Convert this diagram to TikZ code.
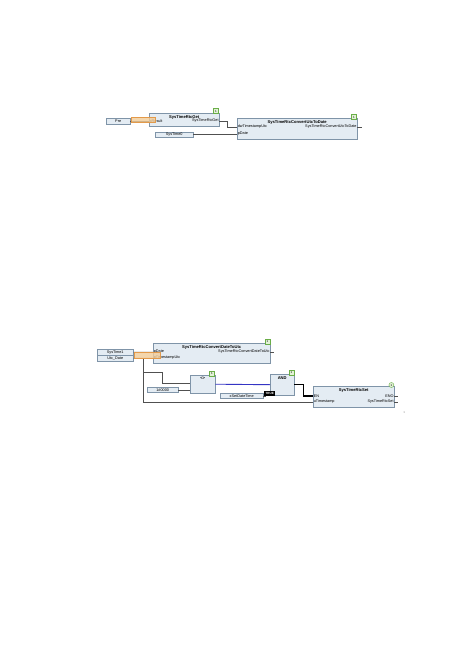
\documentclass[tikz,border=0pt]{standalone}
\usepackage{fontspec}
\setmainfont{Liberation Sans}
\usetikzlibrary{positioning, calc}
\definecolor{bloque}{HTML}{E4ECF3}
\definecolor{borde}{HTML}{7F94A8}
\definecolor{verde}{HTML}{E2F2D6}
\definecolor{verdeborde}{HTML}{6AAE48}
\definecolor{naranja}{HTML}{F2CC98}
\definecolor{naranjaborde}{HTML}{E39A4A}
\definecolor{azul}{HTML}{3434C4}
\definecolor{cable}{HTML}{505050}

\begin{document}
\begin{tikzpicture}[x=1pt, y=-1pt,
    fb/.style={rectangle, draw=borde, fill=bloque, anchor=north west, inner sep=0pt, line width=0.4pt},
    var/.style={rectangle, draw=borde, fill=bloque, anchor=north west, inner sep=0pt, line width=0.4pt, font=\fontsize{3.8}{4}\selectfont},
    titulo/.style={inner sep=0pt, font=\fontsize{4.1}{4.4}\selectfont\bfseries},
    pin_in/.style={anchor=west, inner sep=0.6pt, font=\fontsize{3.8}{4}\selectfont},
    pin_out/.style={anchor=east, inner sep=0.6pt, font=\fontsize{3.8}{4}\selectfont},
    orden/.style={rectangle, draw=verdeborde, fill=verde, minimum size=5pt, inner sep=0pt, font=\fontsize{3}{3}\selectfont},
    orden_set/.style={circle, draw=verdeborde, fill=verde, minimum size=5pt, inner sep=0pt, font=\fontsize{3}{3}\selectfont},
    foco/.style={rectangle, draw=naranjaborde, fill=naranja, fill opacity=0.8, anchor=north west, inner sep=0pt},
    valor/.style={rectangle, fill=black, text=white, anchor=north west, inner sep=0pt, font=\fontsize{3}{3}\selectfont\bfseries},
    line/.style={draw=cable, line width=0.4pt},
    lineaazul/.style={draw=azul, line width=0.9pt},
    lineagruesa/.style={draw=black, line width=1.1pt},
]
    \useasboundingbox[fill=white] (0,0) rectangle (474,669);

    % Red superior
    \node[var, minimum width=24pt, minimum height=6pt] (pre_var) at (106,118) {Pre};
    \node[fb, minimum width=70pt, minimum height=13pt] (rtc_get) at (149,113) {};
    \node[titulo, below=2pt of rtc_get.north] (rtc_get_t) {SysTimeRtcGet};
    \node[pin_in] (rtc_get_in) at ($(rtc_get.north west)+(0,8)$) {xResult};
    \node[pin_out] (rtc_get_out) at ($(rtc_get.north east)+(0,8)$) {SysTimeRtcGet};
    \node[orden] (rtc_get_n) at ($(rtc_get.north east)+(-3.5,-2)$) {1};

    \node[var, minimum width=38pt, minimum height=5pt] (sys_time0) at (155,131.5) {SysTime0};
    \node[fb, minimum width=120pt, minimum height=21pt] (utc_to_date) at (237,118) {};
    \node[titulo, below=2.5pt of utc_to_date.north] (utc_to_date_t) {SysTimeRtcConvertUtcToDate};
    \node[pin_in] (utc_to_date_in1) at ($(utc_to_date.north west)+(0,9)$) {dwTimestampUtc};
    \node[pin_in] (utc_to_date_in2) at ($(utc_to_date.north west)+(0,16)$) {pDate};
    \node[pin_out] (utc_to_date_out) at ($(utc_to_date.north east)+(0,9)$) {SysTimeRtcConvertUtcToDate};
    \node[orden] (utc_to_date_n) at ($(utc_to_date.north east)+(-3.5,-1)$) {1};

    % Conexiones superiores
    \draw[line] (pre_var.east) -- (pre_var.east -| rtc_get.west);
    \draw[line] (rtc_get_out -| rtc_get.east) -- ++(8,0) |- (utc_to_date_in1 -| utc_to_date.west);
    \draw[line] (sys_time0.east) -- (sys_time0.east -| utc_to_date.west);
    \draw[line] (utc_to_date_out -| utc_to_date.east) -- ++(5,0);
    \node[foco, minimum width=24pt, minimum height=5pt] (foco_get) at (131,117) {};

    % Red inferior
    \node[var, minimum width=36pt, minimum height=6pt] (sys_time1) at (97,349) {SysTime1};
    \node[var, minimum width=36pt, minimum height=6pt] (utc_date) at (97,355) {Utc\_Date};
    \node[fb, minimum width=117pt, minimum height=20pt] (date_to_utc) at (153,343) {};
    \node[titulo, below=2.5pt of date_to_utc.north] (date_to_utc_t) {SysTimeRtcConvertDateToUtc};
    \node[pin_in] (date_to_utc_in1) at ($(date_to_utc.north west)+(0,9)$) {pDate};
    \node[pin_in] (date_to_utc_in2) at ($(date_to_utc.north west)+(0,15)$) {pTimestampUtc};
    \node[pin_out] (date_to_utc_out) at ($(date_to_utc.north east)+(0,9)$) {SysTimeRtcConvertDateToUtc};
    \node[orden] (date_to_utc_n) at ($(date_to_utc.north east)+(-3,-1.5)$) {1};

    \node[var, minimum width=31pt, minimum height=5pt] (t_const) at (147,387) {1\#0000};
    \node[fb, minimum width=25pt, minimum height=18pt] (distinto) at (190,375) {};
    \node[titulo, below=2pt of distinto.north] (distinto_t) {<>};
    \node[orden] (distinto_n) at ($(distinto.north east)+(-3.5,-1.5)$) {1};

    \node[fb, minimum width=24pt, minimum height=21pt] (and_blk) at (270,374) {};
    \node[titulo, below=2pt of and_blk.north] (and_blk_t) {AND};
    \node[orden] (and_blk_n) at ($(and_blk.north east)+(-3,-1.5)$) {1};
    \coordinate (and_in2) at ($(and_blk.south west)+(0,-3)$);
    \node[var, minimum width=43pt, minimum height=5pt] (set_date) at (220,393) {xSetDateTime};

    \node[fb, minimum width=81pt, minimum height=21pt] (rtc_set) at (313,386) {};
    \node[titulo, below=2.5pt of rtc_set.north] (rtc_set_t) {SysTimeRtcSet};
    \node[pin_in] (rtc_set_in1) at ($(rtc_set.north west)+(0,10)$) {EN};
    \node[pin_in] (rtc_set_in2) at ($(rtc_set.north west)+(0,16)$) {uTimestamp};
    \node[pin_out] (rtc_set_out1) at ($(rtc_set.north east)+(0,10)$) {ENO};
    \node[pin_out] (rtc_set_out2) at ($(rtc_set.north east)+(0,16)$) {SysTimeRtcSet};
    \node[orden_set] (rtc_set_n) at ($(rtc_set.north east)+(-3,-1)$) {1};

    % Conexiones inferiores
    \draw[line] (sys_time1.east) -- (date_to_utc_in1 -| date_to_utc.west);
    \draw[line] (utc_date.east) -- (date_to_utc_in2 -| date_to_utc.west);
    \coordinate (bus) at (143,358);
    \draw[line] (bus) -- (bus |- rtc_set_in2) -- (rtc_set_in2 -| rtc_set.west);
    \draw[line] (bus |- 0,372) -- (162,372) |- ($(distinto.north west)+(0,8)$);
    \draw[line] (t_const.east) -- (t_const.east -| distinto.west);
    \draw[lineaazul] (distinto.east) -- (and_blk.west);
    \draw[line] (set_date.east) -- ++(2,0) |- (and_in2);
    \draw[lineagruesa] (and_blk.east) -- ++(9,0) |- (rtc_set_in1 -| rtc_set.west);
    \draw[line] (date_to_utc_out -| date_to_utc.east) -- ++(4,0);
    \draw[line] (rtc_set_out1 -| rtc_set.east) -- ++(4,0);
    \draw[line] (rtc_set_out2 -| rtc_set.east) -- ++(4,0);
    \node[foco, minimum width=26pt, minimum height=6pt] (foco_date) at (134,352) {};
    \node[valor, minimum width=11pt, minimum height=5pt] (valor_set) at (264,391) {TRUE};
    \node[circle, fill=cable, inner sep=0pt, minimum size=1pt] (punto) at (404,412) {};
\end{tikzpicture}
\end{document}
